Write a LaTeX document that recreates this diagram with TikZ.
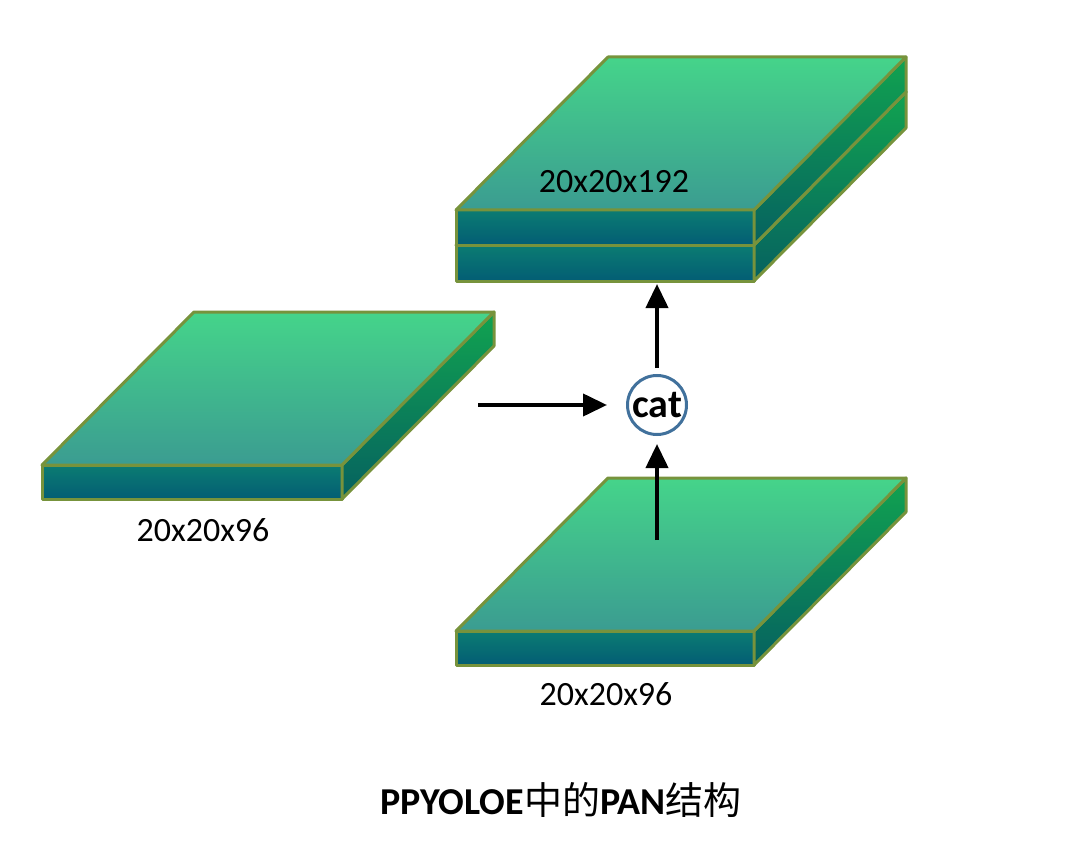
\documentclass[tikz,border=0pt]{standalone}
\usepackage{fontspec}
\setmainfont{Carlito}
\newfontfamily\cjk{Noto Sans CJK SC}
\usetikzlibrary{positioning,arrows.meta,shapes}
\definecolor{edgeolive}{HTML}{77933C}
\definecolor{faceTop}{HTML}{45D48A}
\definecolor{faceBot}{HTML}{3B9C91}
\definecolor{frontTop}{HTML}{0B7C72}
\definecolor{frontBot}{HTML}{035D74}
\definecolor{sideTop}{HTML}{11A350}
\definecolor{sideBot}{HTML}{066160}
\definecolor{catblue}{HTML}{41719C}
\tikzset{
	slab edge/.style={draw=edgeolive, line width=3pt, line join=round},
	cat base/.style={draw=catblue, line width=3pt, circle, minimum size=59pt, inner sep=0pt, fill=white, font=\fontsize{40}{44}\selectfont\bfseries},
	dim label/.style={font=\fontsize{34}{38}\selectfont},
	flow arrow/.style={line width=4pt, -{Triangle[length=24pt,width=22pt]}},
}
% front top left corner x, y, width, thickness
\newcommand{\slab}[4]{%
	\shade [slab edge,top color=frontTop,bottom color=frontBot] (#1,#2) rectangle ++(#3,#4);
	\shade [slab edge,top color=sideTop,bottom color=sideBot] (#1+#3,#2) -- ++(152,-153) -- ++(0,#4) -- ++(-152,153) -- cycle;
	\shade [slab edge,top color=faceTop,bottom color=faceBot] (#1,#2) -- ++(152,-153) -- ++(#3,0) -- ++(-152,153) -- cycle;
}
\begin{document}
\begin{tikzpicture}[x=1pt,y=-1pt]
	\useasboundingbox (0,0) rectangle (1080,848);
	% slabs
	\slab{42}{465}{300}{34}
	\slab{456}{631}{298}{34}
	\slab{456}{245}{298}{36}
	\slab{456}{210}{298}{35}

	\node [dim label] (top) at (614,182) {20x20x192};
	\node [dim label] (left) at (203,530) {20x20x96};
	\node [dim label] (bottom) at (606,694) {20x20x96};

	\node [cat base] (cat) at (657,405) {cat};

	\coordinate (lin) at (478,405);
	\coordinate (bin) at (657,540);
	\coordinate (tout) at (657,284);
	\draw [flow arrow,shorten >=19pt] (lin) -- (cat);
	\draw [flow arrow,shorten >=8pt] (bin) -- (cat);
	\draw [flow arrow,shorten <=6pt] (cat) -- (tout);

	\node [font=\fontsize{38}{42}\selectfont] (title) at (561,800) {\textbf{PPYOLOE}{\cjk 中的}\textbf{PAN}{\cjk 结构}};
\end{tikzpicture}
\end{document}
